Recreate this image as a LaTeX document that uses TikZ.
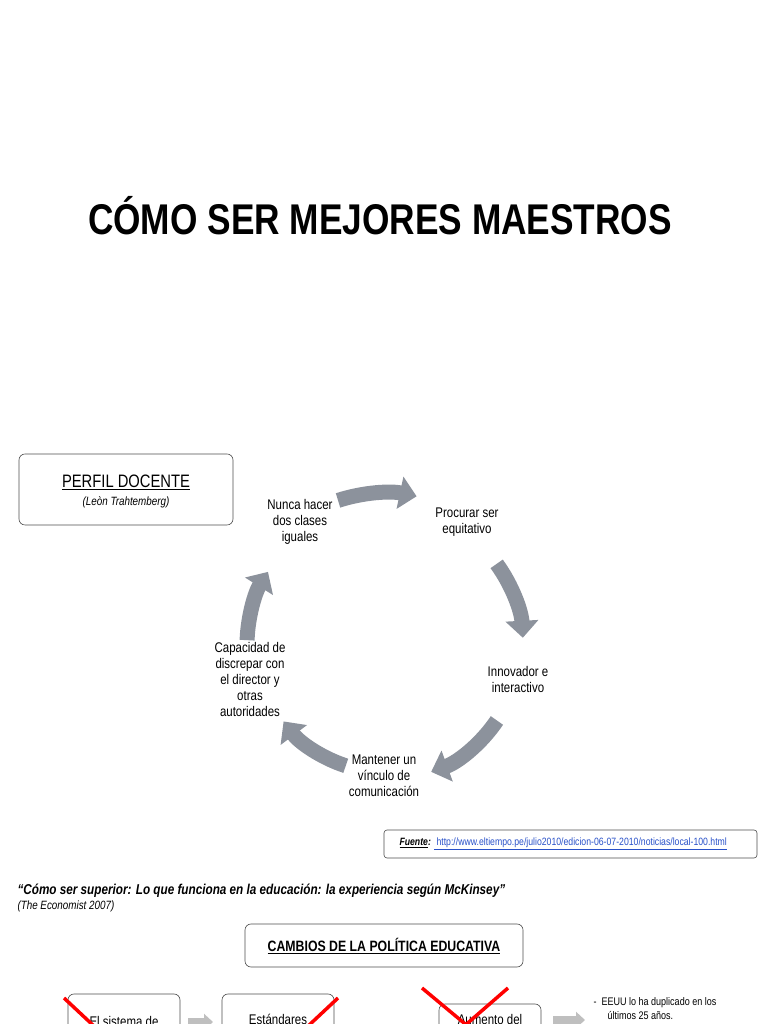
\documentclass[tikz,border=0pt]{standalone}
\usepackage{fontspec}
\setmainfont{Liberation Sans}
\newfontfamily\narrow[FakeStretch=0.82]{Liberation Sans}
\usetikzlibrary{arrows.meta,calc}
\definecolor{cycgray}{RGB}{140,146,156}
\definecolor{linkblue}{RGB}{40,80,200}
\begin{document}
\begin{tikzpicture}[x=1pt,y=1pt,
    txt/.style={font=\narrow\fontsize{14}{16}\selectfont,align=center},
    cyc/.style={line width=15pt,cycgray,-{Triangle[width=32pt,length=17pt]}},
    card/.style={draw=black!70,rounded corners=6pt,line width=0.6pt},
    xmark/.style={red,line width=3.5pt},
    gray arrow/.style={line width=8pt,black!25,-{Triangle[width=16pt,length=9pt]}}
    ]
  \useasboundingbox (0,0) rectangle (768,1024);
  % title
  \node[font=\narrow\bfseries\fontsize{43}{50}\selectfont] (title) at (380,808) {CÓMO SER MEJORES MAESTROS};
  % perfil box
  \draw[card] (19,499) rectangle (233,570);
  \node[font=\narrow\fontsize{18}{20}\selectfont] (perfil) at (126,542) {\underline{PERFIL DOCENTE}};
  \node[font=\narrow\itshape\fontsize{12}{14}\selectfont] (autor) at (126,522) {(Leòn Trahtemberg)};
  % cycle
  \coordinate (c) at (385,379);
  \node[txt] (nunca) at (300,502) {Nunca hacer\\dos clases\\iguales};
  \node[txt] (procurar) at (467,502) {Procurar ser\\equitativo};
  \node[txt] (innovador) at (518,344) {Innovador e\\interactivo};
  \node[txt] (mantener) at (384,248) {Mantener un\\vínculo de\\comunicación};
  \node[txt] (capacidad) at (250,344) {Capacidad de\\discrepar con\\el director y\\otras\\autoridades};
  \draw[cyc] (c) ++(108:152) arc[start angle=108,end angle=78,radius=152];
  \draw[cyc] (c) ++(36:138) arc[start angle=36,end angle=3,radius=138];
  \draw[cyc] (c) ++(-34:135) arc[start angle=-34,end angle=-70,radius=135];
  \draw[cyc] (c) ++(-108:127) arc[start angle=-108,end angle=-143,radius=127];
  \draw[cyc] (c) ++(178:138) arc[start angle=178,end angle=148,radius=138];
  % fuente
  \draw[card,rounded corners=3pt] (384,166) rectangle (757,194);
  \node[font=\narrow\fontsize{10.6}{12}\selectfont,anchor=west] (fuente) at (396,180)
    {\textbf{\textit{\underline{Fuente}:}} \textcolor{linkblue}{\underline{ http://www.eltiempo.pe/julio2010/edicion-06-07-2010/noticias/local-100.html}}};
  % quote
  \node[font=\narrow\bfseries\itshape\fontsize{14.3}{16}\selectfont,anchor=west] (quote) at (14,133)
    {“Cómo ser superior: Lo que funciona en la educación: la experiencia según McKinsey”};
  \node[font=\narrow\itshape\fontsize{12}{14}\selectfont,anchor=west] (economist) at (14,118) {(The Economist 2007)};
  % cambios
  \draw[card] (245,57) rectangle (523,100);
  \node[font=\narrow\bfseries\fontsize{15}{18}\selectfont] (cambios) at (384,78) {\underline{CAMBIOS DE LA POLÍTICA EDUCATIVA}};
  % bottom boxes
  \draw[card] (68,-10) rectangle (180,30);
  \draw[card] (222,-10) rectangle (334,30);
  \draw[card] (439,-10) rectangle (541,20);
  \node[txt] (sistema) at (124,3) {El sistema de};
  \node[txt] (estandares) at (278,5) {Estándares};
  \node[txt] (aumento) at (490,5) {Aumento del};
  \draw[gray arrow] (188,2) -- (213,2);
  \draw[gray arrow] (553,4) -- (585,4);
  \node[font=\narrow\fontsize{11}{14}\selectfont,anchor=north west,align=left] (eeuu) at (590,30)
    {-\ \ EEUU lo ha duplicado en los\\\hspace*{14pt}últimos 25 años.};
  % red crosses
  \draw[xmark] (64,26) -- (96,-4);
  \draw[xmark] (338,26) -- (306,-4);
  \draw[xmark] (422,36) -- (470,-4);
  \draw[xmark] (508,36) -- (462,-4);
\end{tikzpicture}
\end{document}
